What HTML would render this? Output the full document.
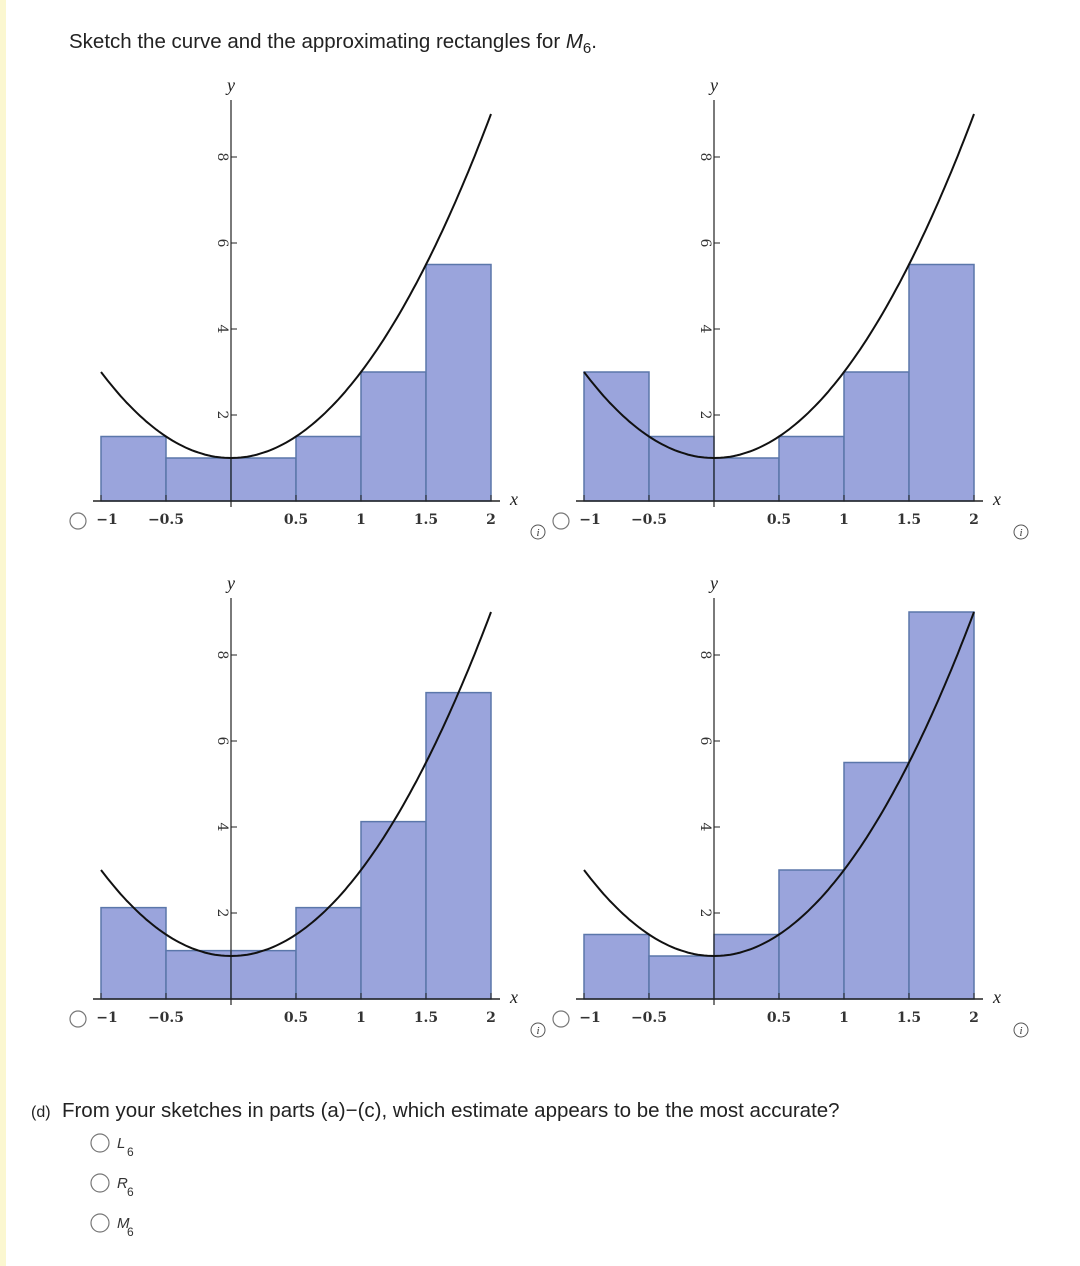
<!DOCTYPE html>
<html><head><meta charset="utf-8"><style>
body{margin:0;width:1080px;height:1266px;background:#fff;position:relative;overflow:hidden;font-family:"Liberation Sans",sans-serif}
#stripe{position:absolute;left:0;top:0;width:6px;height:1266px;background:#fbf7d0}
.t{position:absolute;font-size:20.5px;color:#222}
svg{position:absolute;left:0;top:0}
</style></head><body>
<div id="stripe"></div>
<div class="t" style="left:69px;top:30px">Sketch the curve and the approximating rectangles for <i>M</i><sub style="font-size:15px">6</sub>.</div>
<div class="t" style="left:31px;top:1099px;"><span style="font-size:16px">(d)</span>&nbsp;&nbsp;From your sketches in parts (a)−(c), which estimate appears to be the most accurate?</div>
<svg id="s" width="1080" height="1266"></svg>
<script>
const xTicks=[-1,-0.5,0.5,1,1.5,2];
const xTickLabels=["−1","−0.5","0.5","1","1.5","2"];
const yTicks=[2,4,6,8];
const rectLefts=[-1,-0.5,0,0.5,1,1.5];
const heightsA=[1.5,1,1,1.5,3,5.5];
const heightsB=[3,1.5,1,1.5,3,5.5];
const heightsC=[2.125,1.125,1.125,2.125,4.125,7.125];
const heightsD=[1.5,1,1.5,3,5.5,9];
const panels=[{ox:0,oy:0,h:heightsA,n:'a'},{ox:483,oy:0,h:heightsB,n:'b'},{ox:0,oy:498,h:heightsC,n:'c'},{ox:483,oy:498,h:heightsD,n:'d'}];
const NS='http://www.w3.org/2000/svg';const s=document.getElementById('s');
function mk(t,a,p){const e=document.createElementNS(NS,t);for(const k in a)e.setAttribute(k,a[k]);(p||s).appendChild(e);return e;}
function f(x){return 1+2*x*x;}
panels.forEach(P=>{
 const X=v=>P.ox+231+130*v, Y=v=>P.oy+501-43*v;
 const g=mk('g',{});
 
 
 P.h.forEach((h,i)=>{const r=mk('rect',{x:X(rectLefts[i]),y:Y(h),width:X(rectLefts[i]+0.5)-X(rectLefts[i]),height:Y(0)-Y(h),fill:'#9aa4dc',stroke:'#5b77aa','stroke-width':1.5},g);
  
  });
 mk('line',{x1:P.ox+93,x2:P.ox+500,y1:Y(0),y2:Y(0),stroke:'#222','stroke-width':1.5},g);
 mk('line',{x1:X(0),x2:X(0),y1:P.oy+100,y2:Y(0)+6,stroke:'#222','stroke-width':1.2},g);
 xTicks.forEach((v,i)=>{mk('line',{x1:X(v),x2:X(v),y1:Y(0),y2:Y(0)-6,stroke:'#222'},g);
  const t=mk('text',{x:X(v)+(v==-1?6:0),y:Y(0)+23,'text-anchor':'middle','font-family':'DejaVu Serif, serif','font-weight':'bold','font-size':14,fill:'#333'},g);t.textContent=xTickLabels[i];});
 yTicks.forEach(v=>{mk('line',{x1:X(0),x2:X(0)+6,y1:Y(v),y2:Y(v),stroke:'#222'},g);
  const t=mk('text',{x:X(0)-9,y:Y(v),'text-anchor':'middle','font-family':'DejaVu Serif, serif','font-size':14,fill:'#333',transform:'rotate(90 '+(X(0)-9)+' '+Y(v)+')','dominant-baseline':'central'},g);t.textContent=v;});
 let d='';for(let i=0;i<=120;i++){const x=-1+3*i/120;d+=(i?'L':'M')+X(x).toFixed(1)+' '+Y(f(x)).toFixed(1);}
 const c=mk('path',{d:d,fill:'none',stroke:'#111','stroke-width':2},g);
 
 
 let t=mk('text',{x:X(0),y:P.oy+91,'text-anchor':'middle','font-family':'Liberation Serif, serif','font-style':'italic','font-size':18,fill:'#222'},g);t.textContent='y';
 t=mk('text',{x:P.ox+514,y:Y(0)+4,'text-anchor':'middle','font-family':'Liberation Serif, serif','font-style':'italic','font-size':18,fill:'#222'},g);t.textContent='x';
 const rb=mk('circle',{cx:P.ox+78,cy:Y(0)+20,r:8,fill:'#fff',stroke:'#777','stroke-width':1.2});
 
 
 const ic=mk('circle',{cx:P.ox+538,cy:Y(0)+31,r:7,fill:'#fff',stroke:'#555'});
 
 
 t=mk('text',{x:P.ox+538,y:Y(0)+35,'text-anchor':'middle','font-family':'Liberation Serif, serif','font-style':'italic','font-size':11,fill:'#333'});t.textContent='i';
});
const opts=[['L',1143],['R',1183],['M',1223]];
opts.forEach(o=>{const c=mk('circle',{cx:100,cy:o[1],r:9,fill:'#fff',stroke:'#777','stroke-width':1.2});
 
 
 const t=mk('text',{x:117,y:o[1]+5,'font-family':'Liberation Sans, sans-serif','font-style':'italic','font-size':15,fill:'#333'});t.textContent=o[0];
 const u=mk('text',{x:127,y:o[1]+13,'font-family':'Liberation Sans, sans-serif','font-size':12,fill:'#333'});u.textContent='6';});
</script>
</body></html>
